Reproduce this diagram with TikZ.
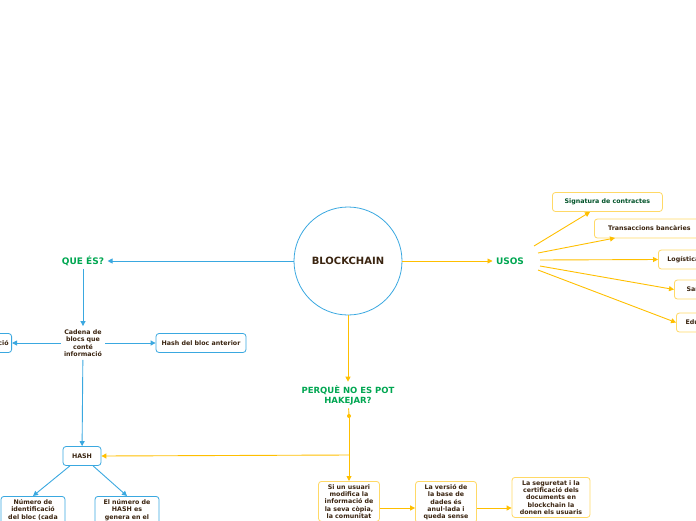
\documentclass[tikz,border=0pt]{standalone}
\usepackage{fontspec}
\setmainfont{DejaVu Sans}
\usetikzlibrary{arrows.meta}
\definecolor{bl}{HTML}{3AA8E0}
\definecolor{yl}{HTML}{FFBF00}
\definecolor{yb}{HTML}{FFD966}
\definecolor{gr}{HTML}{00A651}
\definecolor{tx}{HTML}{3A2410}
\tikzset{
 every node/.style={font=\bfseries\fontsize{6.3}{7.3}\selectfont, text=tx, align=center},
 bbox/.style={draw=bl, line width=0.8pt, rounded corners=3pt, fill=white, inner sep=3pt, minimum height=19pt},
 ybox/.style={draw=yb, line width=0.8pt, rounded corners=3pt, fill=white, inner sep=3pt, minimum height=19pt},
 ybig/.style={draw=yb, line width=0.8pt, rounded corners=3pt, fill=white, inner sep=3pt, anchor=north, text width=55pt},
 barr/.style={draw=bl, line width=0.9pt, -{Triangle[length=5pt,width=5pt]}},
 yarr/.style={draw=yl, line width=0.9pt, -{Triangle[length=5pt,width=5pt]}},
 green/.style={text=gr, font=\bfseries\fontsize{9}{10}\selectfont},
}
\begin{document}
\begin{tikzpicture}[x=1pt,y=-1pt]
\useasboundingbox (0,0) rectangle (696,520);
\clip (0,0) rectangle (696,520);
\node[circle, draw=bl, line width=0.8pt, minimum size=108pt, font=\bfseries\fontsize{10}{12}\selectfont] (bc) at (348,261) {BLOCKCHAIN};
\node[green] (que) at (83,261) {QUE ÉS?};
\node[green] (usos) at (510,261) {USOS};
\node[green, font=\bfseries\fontsize{8.5}{10}\selectfont] (perq) at (348,395) {PERQUÈ NO ES POT\\HAKEJAR?};
\draw[barr] (bc.west) -- (que.east);
\draw[yarr] (bc.east) -- (usos.west);
\draw[yarr] (bc.south) -- (perq.north);
% left branch
\node (cad) at (83,343) {Cadena de\\blocs que\\conté\\informació};
\node[bbox, anchor=east] (inf) at (12,343) {Informació};
\node[bbox, minimum width=90pt] (hba) at (201,343) {Hash del bloc anterior};
\node[bbox, minimum width=38pt] (hash) at (82,456) {HASH};
\draw[barr] (que) -- (cad);
\draw[barr] (cad) -- (inf);
\draw[barr] (cad) -- (hba);
\draw[barr] (cad) -- (hash);
\node[bbox, anchor=north, text width=58pt] (num) at (33,496) {Número de\\identificació\\del bloc (cada\\bloc};
\node[bbox, anchor=north, text width=58pt] (elnum) at (127,496) {El número de\\HASH es\\genera en el\\moment};
\draw[barr] (hash) -- (num.north);
\draw[barr] (hash) -- (elnum.north);
% yellow bottom
\coordinate (dot) at (349,416);
\fill[yl] (dot) circle (2pt);
\coordinate (j) at (349,455);
\node[ybig] (si) at (349,481) {Si un usuari\\modifica la\\informació de\\la seva còpia,\\la comunitat};
\node[ybig] (ver) at (446,481) {La versió de\\la base de\\dades és\\anul·lada i\\queda sense};
\node[ybig, text width=72pt] (seg) at (551,477) {La seguretat i la\\certificació dels\\documents en\\blockchain la\\donen els usuaris};
\draw[draw=yl, line width=0.9pt] (perq) -- (dot);
\draw[yarr] (dot) -- (si.north);
\draw[yarr] (j) -- (hash.east);
\draw[yarr] (si.east |- 0,508) -- (ver.west |- 0,508);
\draw[yarr] (ver.east |- 0,508) -- (seg.west |- 0,508);
% usos
\node[ybox, anchor=west, minimum width=110pt] (sig) at (552,202) {\textcolor{gr!50!black}{Signatura de contractes}};
\node[ybox, anchor=west, minimum width=110pt] (tra) at (594,228.5) {Transaccions bancàries};
\node[ybox, anchor=west, minimum width=50pt] (log) at (658,259.5) {Logística};
\node[ybox, anchor=west, minimum width=50pt] (san) at (674,289.5) {Sanitat};
\node[ybox, anchor=west, minimum width=50pt] (edu) at (676,322.5) {Educació};
\draw[yarr] (534,246) -- (590,212);
\draw[yarr] (538,253) -- (615,238);
\draw[yarr] (540,260) -- (log.west);
\draw[yarr] (540,266) -- (san.west);
\draw[yarr] (538,270) -- (edu.west);
\end{tikzpicture}
\end{document}
